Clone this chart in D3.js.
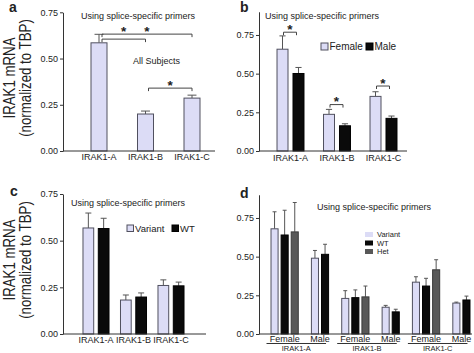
<!DOCTYPE html>
<html>
<head>
<meta charset="utf-8">
<script src="https://cdn.jsdelivr.net/npm/d3@7"></script>
<style>
body { margin: 0; background: #fff; }
text { font-family: "Liberation Sans", Arial, sans-serif; fill: #222; }
</style>
</head>
<body>
<script>
// x categories and y ticks shared by all four panels
var genes = ["IRAK1-A", "IRAK1-B", "IRAK1-C"];
var yTicks = [0, 0.25, 0.5, 0.75];

// a: all subjects (mean, sem)
var allMean = [0.585, 0.200, 0.286];
var allSem = [0.046, 0.016, 0.016];

// b: by sex
var sexes = ["Female", "Male"];
var femaleMean = [0.658, 0.237, 0.353];
var femaleSem = [0.086, 0.032, 0.030];
var maleMean = [0.501, 0.163, 0.211];
var maleSem = [0.039, 0.013, 0.015];

// c: by genotype
var genotypesC = ["Variant", "WT"];
var variantMean = [0.568, 0.182, 0.260];
var variantSem = [0.080, 0.027, 0.030];
var wtMean = [0.565, 0.198, 0.258];
var wtSem = [0.055, 0.022, 0.020];

// d: genotype within sex (no Het males)
var genotypesD = ["Variant", "WT", "Het"];
var dVariantFemale = [0.680, 0.230, 0.335];
var dVariantFemaleSem = [0.110, 0.050, 0.035];
var dVariantMale = [0.490, 0.173, 0.200];
var dVariantMaleSem = [0.050, 0.012, 0.006];
var dWtFemale = [0.640, 0.235, 0.310];
var dWtFemaleSem = [0.160, 0.050, 0.050];
var dWtMale = [0.515, 0.143, 0.220];
var dWtMaleSem = [0.065, 0.017, 0.025];
var dHetFemale = [0.660, 0.240, 0.415];
var dHetFemaleSem = [0.190, 0.070, 0.065];

// significance marks
var sigA = [
    { from: "IRAK1-A", to: "IRAK1-B", y: 0.605, star: 0.632 },
    { from: "IRAK1-A", to: "IRAK1-C", y: 0.632, star: 0.632 },
    { from: "IRAK1-B", to: "IRAK1-C", y: 0.340, star: 0.340 }
];
var sigB = [
    { gene: "IRAK1-A", y: 0.768 },
    { gene: "IRAK1-B", y: 0.300 },
    { gene: "IRAK1-C", y: 0.420 }
];

var lavender = "#dcdcf6";
var lavStroke = "#50505f";
var fills = { Female: lavender, Male: "#0a0a0a", Variant: lavender, WT: "#0a0a0a", Het: "#585858" };
var strokes = { Female: lavStroke, Male: "#000", Variant: lavStroke, WT: "#000", Het: "#3a3a3a" };

function init() {
    var svg = d3.select("body")
        .append("svg")
        .attr("width", 474)
        .attr("height", 353);

    function yAxis(x0, y) {
        var g = svg.append("g")
            .attr("transform", "translate(" + x0 + ",0)")
            .call(d3.axisLeft(y)
                .tickValues(yTicks)
                .tickFormat(d3.format(".2f"))
                .tickSize(3)
                .tickSizeOuter(0)
                .tickPadding(2));
        g.selectAll("path, line").attr("stroke", "#333");
        g.selectAll("text")
            .style("font-size", "9px")
            .style("font-family", "Liberation Sans, Arial, sans-serif")
            .attr("fill", "#222");
    }

    function baseline(x0, x1, y) {
        svg.append("line")
            .attr("x1", x0).attr("x2", x1)
            .attr("y1", y(0)).attr("y2", y(0))
            .attr("stroke", "#333");
    }

    function bars(rows, y) {
        var g = svg.append("g");
        g.selectAll("line.err")
            .data(rows)
            .enter()
            .append("line")
            .attr("class", "err")
            .attr("x1", function (d) { return d.x + d.w / 2; })
            .attr("x2", function (d) { return d.x + d.w / 2; })
            .attr("y1", function (d) { return y(d.v); })
            .attr("y2", function (d) { return y(d.v + d.e); })
            .attr("stroke", "#555");
        g.selectAll("line.cap")
            .data(rows)
            .enter()
            .append("line")
            .attr("class", "cap")
            .attr("x1", function (d) { return d.x + d.w * 0.22; })
            .attr("x2", function (d) { return d.x + d.w * 0.78; })
            .attr("y1", function (d) { return y(d.v + d.e); })
            .attr("y2", function (d) { return y(d.v + d.e); })
            .attr("stroke", "#555");
        g.selectAll("rect")
            .data(rows)
            .enter()
            .append("rect")
            .attr("x", function (d) { return d.x; })
            .attr("y", function (d) { return y(d.v); })
            .attr("width", function (d) { return d.w; })
            .attr("height", function (d) { return y(0) - y(d.v); })
            .attr("fill", function (d) { return d.fill; })
            .attr("stroke", function (d) { return d.stroke; })
            .attr("stroke-width", 1);
    }

    function xLabels(x, y, dy) {
        svg.selectAll(null)
            .data(genes)
            .enter()
            .append("text")
            .attr("x", function (d) { return x(d) + x.bandwidth() / 2; })
            .attr("y", y(0) + dy)
            .attr("text-anchor", "middle")
            .style("font-size", "9px")
            .text(function (d) { return d; });
    }

    function bracket(x1, x2, yp) {
        svg.append("path")
            .attr("d", "M" + x1 + "," + (yp + 3) + "V" + yp + "H" + x2 + "V" + (yp + 3))
            .attr("fill", "none")
            .attr("stroke", "#444");
    }

    // star sits just above a bracket line at pixel yp
    function star(x, yp) {
        svg.append("text")
            .attr("x", x).attr("y", yp + 1.5)
            .attr("text-anchor", "middle")
            .style("font-size", "13.5px")
            .style("font-weight", "bold")
            .text("*");
    }

    function note(txt, x, yp, size) {
        svg.append("text")
            .attr("x", x).attr("y", yp)
            .style("font-size", size + "px")
            .text(txt);
    }

    function panelLetter(txt, x, yp) {
        svg.append("text")
            .attr("x", x).attr("y", yp)
            .style("font-size", "14px")
            .style("font-weight", "bold")
            .text(txt);
    }

    function yTitle(cy) {
        svg.append("text")
            .attr("transform", "translate(15," + cy + ") rotate(-90) scale(0.78,1)")
            .attr("text-anchor", "middle")
            .style("font-size", "17px")
            .text("IRAK1 mRNA");
        svg.append("text")
            .attr("transform", "translate(31," + cy + ") rotate(-90) scale(0.78,1)")
            .attr("text-anchor", "middle")
            .style("font-size", "17px")
            .text("(normalized to TBP)");
    }

    // ---------- a ----------
    var xa = d3.scaleBand().domain(genes).range([75.75, 215.25]).paddingInner(0.656).paddingOuter(0.328);
    var ya = d3.scaleLinear().domain([0, 0.75]).range([151, 12.3]);
    bars(genes.map(function (g, i) {
        return { x: xa(g), w: xa.bandwidth(), v: allMean[i], e: allSem[i], fill: lavender, stroke: lavStroke };
    }), ya);
    baseline(63, 215, ya);
    yAxis(63, ya);
    xLabels(xa, ya, 9);
    sigA.forEach(function (s) {
        var x1 = xa(s.from) + xa.bandwidth() / 2 + 3;
        var x2 = xa(s.to) + xa.bandwidth() / 2;
        bracket(x1, x2, ya(s.y));
        star((x1 + x2) / 2, ya(s.star));
    });
    note("Using splice-specific primers", 81, 19, 9);
    note("All Subjects", 133, 64, 9);
    panelLetter("a", 9, 12);
    yTitle(78);

    // ---------- b ----------
    var xb = d3.scaleBand().domain(genes).range([267.25, 406.75]);
    var xbIn = d3.scaleBand().domain(sexes)
        .range([xb.bandwidth() * 0.21, xb.bandwidth() * 0.79]).paddingInner(0.3125);
    var yb = d3.scaleLinear().domain([0, 0.9]).range([151, 151 - 0.9 * 154.7]);
    var rowsB = [];
    genes.forEach(function (g, i) {
        rowsB.push({ x: xb(g) + xbIn("Female"), w: xbIn.bandwidth(), v: femaleMean[i], e: femaleSem[i], fill: fills.Female, stroke: strokes.Female });
        rowsB.push({ x: xb(g) + xbIn("Male"), w: xbIn.bandwidth(), v: maleMean[i], e: maleSem[i], fill: fills.Male, stroke: strokes.Male });
    });
    bars(rowsB, yb);
    baseline(259, 407, yb);
    yAxis(259, yb);
    xLabels(xb, yb, 10);
    sigB.forEach(function (s) {
        var x1 = xb(s.gene) + xbIn("Female") + xbIn.bandwidth() / 2 + 1;
        var x2 = xb(s.gene) + xbIn("Male") + xbIn.bandwidth() / 2 - 2;
        bracket(x1, x2, yb(s.y));
        star((x1 + x2) / 2, yb(s.y));
    });
    note("Using splice-specific primers", 265, 19, 9);
    panelLetter("b", 240, 12);
    var legB = svg.append("g").selectAll("g")
        .data(sexes)
        .enter()
        .append("g")
        .attr("transform", function (d, i) { return "translate(" + (321 + i * 45) + ",43)"; });
    legB.append("rect").attr("width", 7).attr("height", 7)
        .attr("fill", function (d) { return fills[d]; })
        .attr("stroke", function (d) { return strokes[d]; });
    legB.append("text").attr("x", 8.5).attr("y", 7)
        .style("font-size", "10px")
        .text(function (d) { return d; });

    // ---------- c ----------
    var xc = d3.scaleBand().domain(genes).range([77.25, 189.75]);
    var xcIn = d3.scaleBand().domain(genotypesC)
        .range([xc.bandwidth() * 0.153, xc.bandwidth() * 0.847]).paddingInner(0.3);
    var yc = d3.scaleLinear().domain([0, 0.75]).range([334, 194]);
    var rowsC = [];
    genes.forEach(function (g, i) {
        rowsC.push({ x: xc(g) + xcIn("Variant"), w: xcIn.bandwidth(), v: variantMean[i], e: variantSem[i], fill: fills.Variant, stroke: strokes.Variant });
        rowsC.push({ x: xc(g) + xcIn("WT"), w: xcIn.bandwidth(), v: wtMean[i], e: wtSem[i], fill: fills.WT, stroke: strokes.WT });
    });
    bars(rowsC, yc);
    baseline(63, 206, yc);
    yAxis(63, yc);
    xLabels(xc, yc, 9);
    note("Using splice-specific primers", 71, 205.5, 9);
    panelLetter("c", 10, 196);
    yTitle(260);
    var legC = svg.append("g").selectAll("g")
        .data(genotypesC)
        .enter()
        .append("g")
        .attr("transform", function (d, i) { return "translate(" + (127 + i * 45) + ",225)"; });
    legC.append("rect").attr("width", 6.5).attr("height", 6.5)
        .attr("fill", function (d) { return fills[d]; })
        .attr("stroke", function (d) { return strokes[d]; });
    legC.append("text").attr("x", 8).attr("y", 6.5)
        .style("font-size", "9.5px")
        .text(function (d) { return d; });

    // ---------- d ----------
    var xd = d3.scaleBand().domain(genes).range([269.5, 481.6]);
    var xdSex = d3.scaleBand().domain(sexes).range([0, xd.bandwidth()]).paddingInner(0.25);
    var xdGen = d3.scaleBand().domain(genotypesD).range([0, xdSex.bandwidth()]).paddingInner(0.3).paddingOuter(0.15);
    var yd = d3.scaleLinear().domain([0, 0.9]).range([334, 334 - 0.9 * 154.7]);
    var series = {
        Female: { Variant: [dVariantFemale, dVariantFemaleSem], WT: [dWtFemale, dWtFemaleSem], Het: [dHetFemale, dHetFemaleSem] },
        Male: { Variant: [dVariantMale, dVariantMaleSem], WT: [dWtMale, dWtMaleSem] }
    };
    var rowsD = [];
    var sexLabels = [];
    genes.forEach(function (g, i) {
        sexes.forEach(function (s) {
            var xs = [];
            genotypesD.forEach(function (k) {
                if (!series[s][k]) return;
                var x = xd(g) + xdSex(s) + xdGen(k);
                xs.push(x + xdGen.bandwidth() / 2);
                rowsD.push({ x: x, w: xdGen.bandwidth(), v: series[s][k][0][i], e: series[s][k][1][i], fill: fills[k], stroke: strokes[k] });
            });
            sexLabels.push({ label: s, x: (xs[0] + xs[xs.length - 1]) / 2 });
        });
    });
    bars(rowsD, yd);
    baseline(259, 472, yd);
    yAxis(259, yd);
    svg.selectAll(null)
        .data(sexLabels)
        .enter()
        .append("text")
        .attr("x", function (d) { return d.x; })
        .attr("y", 341.5)
        .attr("text-anchor", "middle")
        .style("font-size", "9px")
        .text(function (d) { return d.label; });
    genes.forEach(function (g) {
        svg.append("line")
            .attr("x1", xd(g) - 3).attr("x2", xd(g) + xd.bandwidth() * 0.8)
            .attr("y1", 343.5).attr("y2", 343.5)
            .attr("stroke", "#333");
        svg.append("text")
            .attr("x", xd(g) + xd.bandwidth() * 0.4 - 1.5)
            .attr("y", 351.3)
            .attr("text-anchor", "middle")
            .style("font-size", "7.5px")
            .text(g);
    });
    note("Using splice-specific primers", 317, 210, 9);
    panelLetter("d", 240, 198);
    var legD = svg.append("g").selectAll("g")
        .data(genotypesD)
        .enter()
        .append("g")
        .attr("transform", function (d, i) { return "translate(365," + (232 + i * 8.5) + ")"; });
    legD.append("rect").attr("width", 8).attr("height", 5)
        .attr("fill", function (d) { return fills[d]; })
        .attr("stroke", "none");
    legD.append("text").attr("x", 12).attr("y", 5.3)
        .style("font-size", "7.5px")
        .text(function (d) { return d; });
}

window.onload = init;
</script>
</body>
</html>
